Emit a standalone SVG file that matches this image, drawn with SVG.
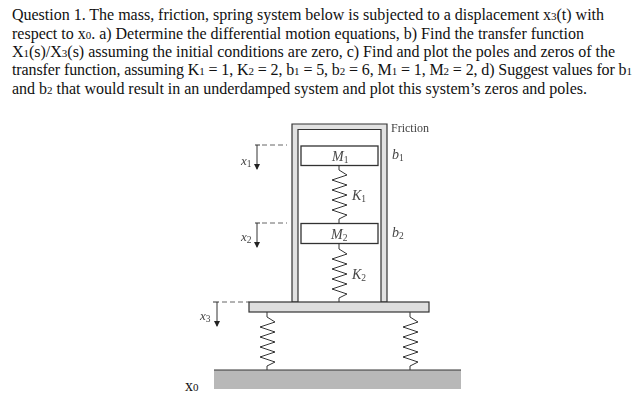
<svg xmlns="http://www.w3.org/2000/svg" width="640" height="418" viewBox="0 0 640 418">
<defs>
<style>
.q{font-family:"Liberation Serif",serif;font-size:16px;fill:#111}
.s{font-size:11px}
.l{font-family:"Liberation Serif",serif;fill:#444;font-size:14px;font-style:italic}
.sub{font-size:9.500px;font-style:normal}
.box{fill:#fff;stroke:#333;stroke-width:1.3}
.sp{fill:none;stroke:#333;stroke-width:1}
.ar{fill:none;stroke:#333;stroke-width:1}
.da{fill:none;stroke:#666;stroke-width:1;stroke-dasharray:5 3}
</style>
<marker id="a" markerWidth="6" markerHeight="6" refX="5" refY="3" orient="auto"><path d="M0 0L6 3L0 6Z" fill="#222"/></marker>
<filter id="b" x="-5%" y="-5%" width="110%" height="110%"><feGaussianBlur stdDeviation="0.35"/></filter>
</defs>
<rect width="640" height="418" fill="#fff"/>
<g id="question">
<text class="q" x="12" y="20" textLength="592">Question 1. The mass, friction, spring system below is subjected to a displacement x<tspan class="s">3</tspan>(t) with</text>
<text class="q" x="12" y="39" textLength="572">respect to x<tspan class="s">0</tspan>. a) Determine the differential motion equations, b) Find the transfer function</text>
<text class="q" x="12" y="57" textLength="603">X<tspan class="s">1</tspan>(s)/X<tspan class="s">3</tspan>(s) assuming the initial conditions are zero, c) Find and plot the poles and zeros of the</text>
<text class="q" x="12" y="75" textLength="620">transfer function, assuming K<tspan class="s">1</tspan> = 1, K<tspan class="s">2</tspan> = 2, b<tspan class="s">1</tspan> = 5, b<tspan class="s">2</tspan> = 6, M<tspan class="s">1</tspan> = 1, M<tspan class="s">2</tspan> = 2, d) Suggest values for b<tspan class="s">1</tspan></text>
<text class="q" x="12" y="94" textLength="575">and b<tspan class="s">2</tspan> that would result in an underdamped system and plot this system’s zeros and poles.</text>
</g>
<g filter="url(#b)">
<g id="ground"><rect x="214" y="370" width="247" height="19" fill="#b8b8b8"/><path d="M214 370H461" stroke="#333" stroke-width="1"/></g>
<g id="connectors">
<path class="sp" d="M339 165V170L347 175L332 180L347 185L332 190L347 195L332 200L347 205L332 210L347 215L339 219V223"/>
<path class="sp" d="M339 244V249L347 254L332 259L347 264L332 269L347 274L332 279L347 284L332 289L347 294L339 298V302"/>
<path class="sp" d="M267 312V317L275 322L260 327L275 332L260 337L275 342L260 347L275 352L260 357L275 362L267 366V370"/>
<path class="sp" d="M410 312V317L418 322L403 327L418 332L403 337L418 342L403 347L418 352L403 357L418 362L410 366V370"/>
<path class="ar" d="M257 145V169" marker-end="url(#a)"/>
<path class="ar" d="M255 145H260M255 223H260M213 302H219"/>
<path class="ar" d="M257 223V247" marker-end="url(#a)"/>
<path class="ar" d="M217 302V326" marker-end="url(#a)"/>
<path class="da" d="M262 145H287M262 223H287M222 302H249"/>
</g>
<g id="frame">
<path d="M292 302V124H387V302H381V129.500H298V302Z" fill="#e2e2e2" stroke="#333" stroke-width="1.2"/>
</g>
<g id="platform"><rect x="249" y="302" width="180" height="10" fill="#dedede" stroke="#333" stroke-width="1.2"/></g>
<g id="m1"><rect class="box" x="301" y="146" width="77" height="19.500"/><text class="l" x="332" y="160.500">M<tspan class="sub" dy="2">1</tspan></text></g>
<g id="m2"><rect class="box" x="301" y="223.500" width="77" height="20"/><text class="l" x="331" y="239">M<tspan class="sub" dy="2">2</tspan></text></g>
<g id="labels">
<text class="l" x="391" y="132" style="font-style:normal;font-size:12px">Friction</text>
<text class="l" x="392" y="159">b<tspan class="sub" dy="2">1</tspan></text>
<text class="l" x="392" y="237">b<tspan class="sub" dy="2">2</tspan></text>
<text class="l" x="352" y="200">K<tspan class="sub" dy="2">1</tspan></text>
<text class="l" x="352" y="279">K<tspan class="sub" dy="2">2</tspan></text>
<text class="l" x="241" y="165" style="font-size:13px">x<tspan class="sub" dy="2">1</tspan></text>
<text class="l" x="241" y="241" style="font-size:13px">x<tspan class="sub" dy="2">2</tspan></text>
<text class="l" x="200" y="320" style="font-size:13px">x<tspan class="sub" dy="2">3</tspan></text>
</g>
</g>
<text id="x0" class="q" x="185" y="391">x<tspan class="s">0</tspan></text>
</svg>
